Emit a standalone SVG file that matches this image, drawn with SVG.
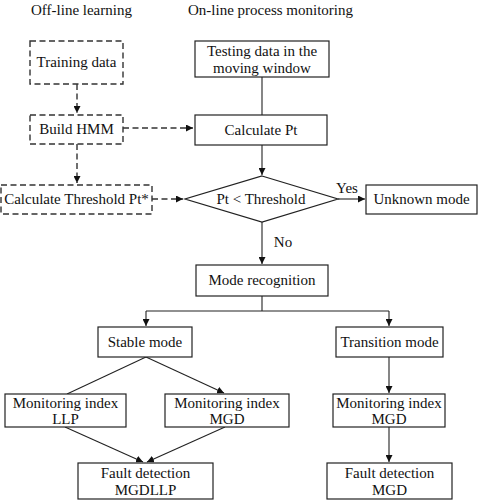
<svg xmlns="http://www.w3.org/2000/svg" width="478" height="500" viewBox="0 0 478 500">
<defs>
<marker id="arr" viewBox="0 0 10 10" refX="10" refY="5" markerWidth="7" markerHeight="7" markerUnits="userSpaceOnUse" orient="auto">
<path d="M0,0 L10,5 L0,10 z" fill="#111"/>
</marker>
</defs>
<style>
text{font-family:"Liberation Serif","Times New Roman",serif;font-size:15px;fill:#111;text-anchor:middle}
.box{fill:#fff;stroke:#222;stroke-width:1.2}
.dbox{fill:#fff;stroke:#333;stroke-width:1.4;stroke-dasharray:6,3.5}
.ln{fill:none;stroke:#222;stroke-width:1.1}
.dl{fill:none;stroke:#333;stroke-width:1.4;stroke-dasharray:6,3.5}
.title{text-anchor:start}
</style>
<rect width="478" height="500" fill="#fff"/>
<text class="title" x="31" y="15">Off-line learning</text>
<text class="title" x="188" y="15">On-line process monitoring</text>
<g id="connectors">
<path class="dl" d="M77,84 V113" marker-end="url(#arr)"/>
<path class="dl" d="M77,144 V183" marker-end="url(#arr)"/>
<path class="dl" d="M123,128 H193" marker-end="url(#arr)"/>
<path class="dl" d="M152,199 H183" marker-end="url(#arr)"/>
<path class="ln" d="M262,77 V115"/>
<path class="ln" d="M262,145 V175" marker-end="url(#arr)"/>
<path class="ln" d="M338,199 H365" marker-end="url(#arr)"/>
<path class="ln" d="M262,222 V264" marker-end="url(#arr)"/>
<path class="ln" d="M262,296 V311"/>
<path class="ln" d="M146,311 H389"/>
<path class="ln" d="M146,311 V326" marker-end="url(#arr)"/>
<path class="ln" d="M389,311 V326" marker-end="url(#arr)"/>
<path class="ln" d="M146,357 L67,394"/>
<path class="ln" d="M146,357 L224,393" marker-end="url(#arr)"/>
<path class="ln" d="M65,427 L143,462" marker-end="url(#arr)"/>
<path class="ln" d="M225,427 L147,462" marker-end="url(#arr)"/>
<path class="ln" d="M389,357 V393" marker-end="url(#arr)"/>
<path class="ln" d="M389,427 V462" marker-end="url(#arr)"/>
<text x="347" y="193">Yes</text>
<text x="283" y="247">No</text>
</g>
<g id="training"><rect class="dbox" x="30" y="41" width="93" height="43"/><text x="76.5" y="67">Training data</text></g>
<g id="buildhmm"><rect class="dbox" x="30" y="115" width="93" height="29"/><text x="76.5" y="134">Build HMM</text></g>
<g id="threshold"><rect class="dbox" x="1" y="185" width="151" height="29"/><text x="76.5" y="204">Calculate Threshold Pt*</text></g>
<g id="testing"><rect class="box" x="195" y="41" width="134" height="36"/><text x="262" y="56">Testing data in the</text><text x="262" y="73">moving window</text></g>
<g id="calcpt"><rect class="box" x="195" y="115" width="132" height="30"/><text x="261" y="135">Calculate Pt</text></g>
<g id="decision"><path class="box" d="M262,176 L338,199 L262,222 L185,199 Z"/><text x="261" y="204">Pt &lt; Threshold</text></g>
<g id="unknown"><rect class="box" x="366" y="185" width="111" height="29"/><text x="421.5" y="204">Unknown mode</text></g>
<g id="moderec"><rect class="box" x="196" y="265" width="132" height="31"/><text x="262" y="285">Mode recognition</text></g>
<g id="stable"><rect class="box" x="98" y="327" width="94" height="30"/><text x="145" y="347">Stable mode</text></g>
<g id="transition"><rect class="box" x="336" y="327" width="107" height="30"/><text x="389.5" y="347">Transition mode</text></g>
<g id="llp"><rect class="box" x="5" y="394" width="121" height="33"/><text x="65.5" y="408">Monitoring index</text><text x="65.5" y="424">LLP</text></g>
<g id="mgd1"><rect class="box" x="165" y="394" width="124" height="33"/><text x="227" y="408">Monitoring index</text><text x="227" y="424">MGD</text></g>
<g id="mgd2"><rect class="box" x="333" y="394" width="112" height="33"/><text x="389" y="408">Monitoring index</text><text x="389" y="424">MGD</text></g>
<g id="fd1"><rect class="box" x="78" y="463" width="135" height="36"/><text x="145.5" y="478">Fault detection</text><text x="145.5" y="495">MGDLLP</text></g>
<g id="fd2"><rect class="box" x="327" y="463" width="125" height="36"/><text x="389.5" y="478">Fault detection</text><text x="389.5" y="495">MGD</text></g>
</svg>
